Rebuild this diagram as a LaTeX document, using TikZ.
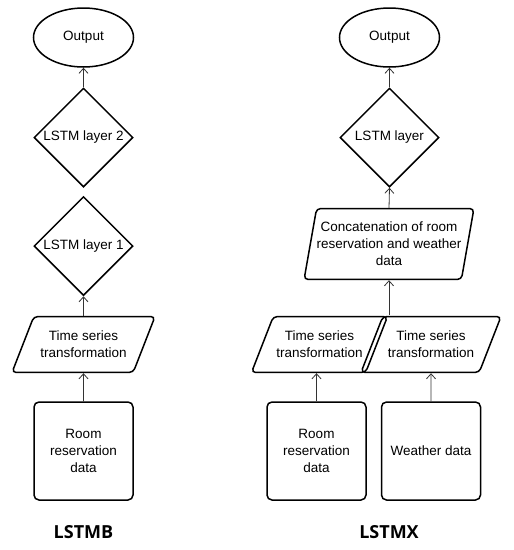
\documentclass[tikz,border=0pt]{standalone}
\usepackage{fontspec}
\setmainfont{Liberation Sans}
\newfontfamily\headfont{Open Sans}
\usetikzlibrary{shapes.geometric,arrows.meta}

\tikzset{
	outnode/.style={ellipse, draw, line width=1.5pt, minimum width=100pt, minimum height=59pt, inner sep=0pt},
	lstmnode/.style={diamond, draw, line width=1.5pt, minimum width=99pt, minimum height=99pt, inner sep=0pt},
	ionode/.style={trapezium, trapezium stretches body, draw, line width=1.5pt, rounded corners=4pt, align=center, inner xsep=0pt, inner ysep=14.5pt, trapezium left angle=68.7, trapezium right angle=111.3},
	databox/.style={rectangle, draw, line width=1.5pt, rounded corners=5pt, minimum width=99pt, minimum height=98pt, align=center, inner sep=0pt},
	headlabel/.style={font=\headfont\bfseries\fontsize{18}{22}\selectfont},
	link/.style={-{Straight Barb[length=5pt, width=9pt]}, line width=0.8pt, draw=black!80}
}

\begin{document}
\begin{tikzpicture}[x=1pt, y=-1pt, font=\fontsize{13.5}{17}\selectfont]
		\useasboundingbox (0,0) rectangle (514,550);

		% LSTMB
		\draw (83.5,37.5) node[outnode] (outB) {Output};
		\draw (83.5,137.5) node[lstmnode] (lstmB2) {LSTM layer 2};
		\draw (83.5,246) node[lstmnode] (lstmB1) {LSTM layer 1};
		\draw (83.5,344.5) node[ionode, minimum width=143pt] (tsB) {Time series\\transformation};
		\draw (83.5,451) node[databox] (roomB) {Room\\reservation\\data};
		\draw (83.5,532) node[headlabel] (nameB) {LSTMB};

		\draw [link] (lstmB2.north) -- (outB.south);
		\draw [link] (tsB.north) -- (lstmB1.south);
		\draw [link] (roomB.north) -- (tsB.south);

		% LSTMX
		\draw (389.5,37.5) node[outnode] (outX) {Output};
		\draw (389.5,137.5) node[lstmnode] (lstmX) {LSTM layer};
		\draw (389,244) node[ionode, inner ysep=13.5pt, minimum width=167pt, trapezium left angle=80, trapezium right angle=100] (concat) {Concatenation of room\\reservation and weather\\data};
		\draw (319.5,344.5) node[ionode, minimum width=136pt] (tsRoom) {Time series\\transformation};
		\draw (431,344.5) node[ionode, minimum width=140pt] (tsWeather) {Time series\\transformation};
		\draw (316.5,451) node[databox] (roomX) {Room\\reservation\\data};
		\draw (431,451) node[databox] (weather) {Weather data};
		\draw (389,532) node[headlabel] (nameX) {LSTMX};
		\coordinate (join) at (389,315);

		\draw [link] (lstmX.north) -- (outX.south);
		\draw [link] (concat.north) -- (lstmX.south);
		\draw [link] (join) -- (join |- concat.south);
		\draw [link] (roomX.north) -- (roomX.north |- tsRoom.south);
		\draw [link] (weather.north) -- (tsWeather.south);
	\end{tikzpicture}
\end{document}
